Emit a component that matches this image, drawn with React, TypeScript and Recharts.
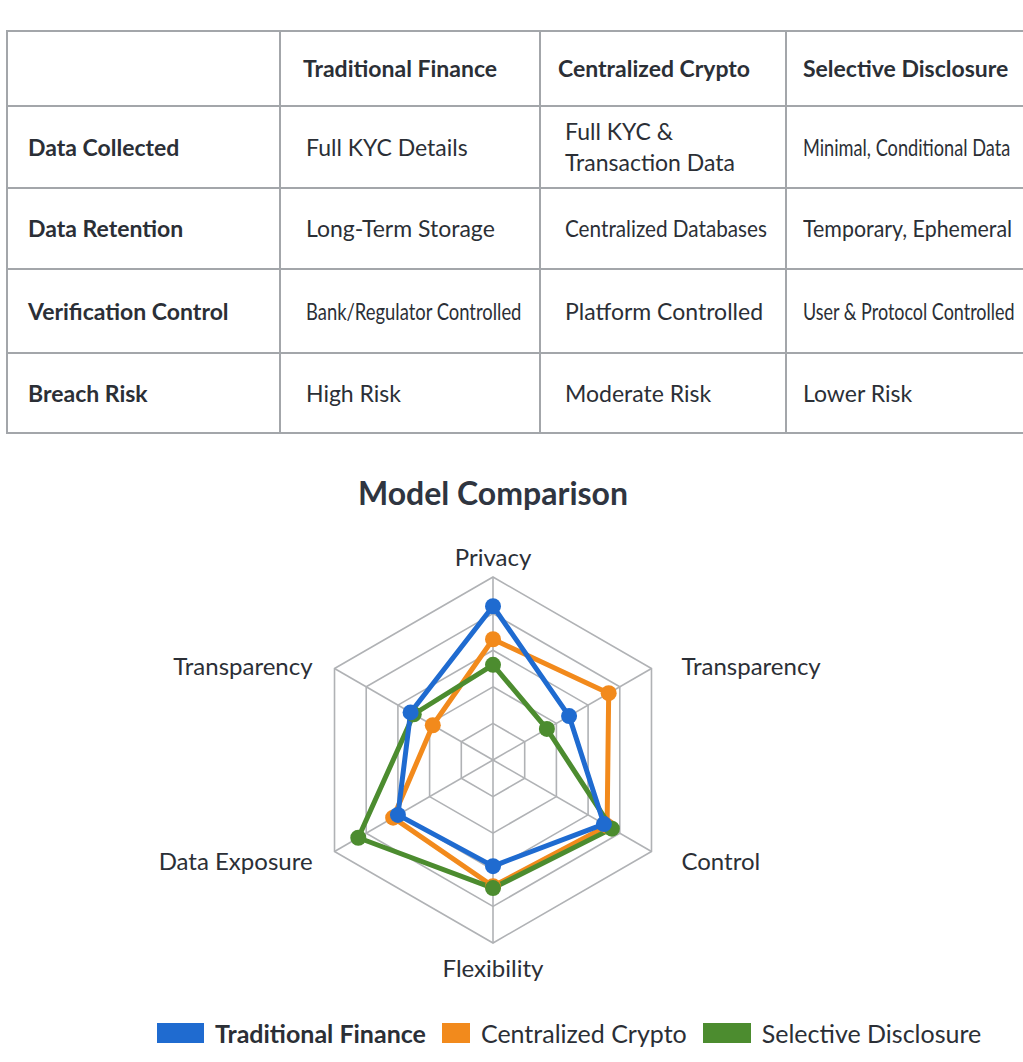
import { RadarChart, Radar, PolarGrid, PolarAngleAxis, PolarRadiusAxis, Legend } from 'recharts'

// Table contents
const modelNames = ['Traditional Finance', 'Centralized Crypto', 'Selective Disclosure']
const rowLabels = ['Data Collected', 'Data Retention', 'Verification Control', 'Breach Risk']
const tradFinanceCells = ['Full KYC Details', 'Long-Term Storage', 'Bank/Regulator Controlled', 'High Risk']
const centralizedCells = ['Full KYC &\nTransaction Data', 'Centralized Databases', 'Platform Controlled', 'Moderate Risk']
const selectiveCells = ['Minimal, Conditional Data', 'Temporary, Ephemeral', 'User & Protocol Controlled', 'Lower Risk']

// Radar contents
const axisKeys = ['privacy', 'transparencyRight', 'control', 'flexibility', 'exposure', 'transparencyLeft']
const axisLabels = ['Privacy', 'Transparency', 'Control', 'Flexibility', 'Data Exposure', 'Transparency']
const tradFinanceScores = [84, 48, 70, 58, 60, 52]
const centralizedScores = [66, 73, 72, 69, 63, 38]
const selectiveScores = [52, 34, 75, 70, 85, 50]

const COLORS: Record<string, string> = {
  'Traditional Finance': '#1f6bd0',
  'Centralized Crypto': '#f28a1c',
  'Selective Disclosure': '#4c8c2f',
}
const LEGEND_ICON_W: Record<string, number> = {
  'Traditional Finance': 47,
  'Centralized Crypto': 28,
  'Selective Disclosure': 48,
}

const FONT = 'Lato, "Open Sans", sans-serif'
const INK = '#2b2f36'
const BORDER = '#a3a6aa'

const chartData = axisKeys.map((key, i) => ({
  axis: key,
  'Traditional Finance': tradFinanceScores[i],
  'Centralized Crypto': centralizedScores[i],
  'Selective Disclosure': selectiveScores[i],
}))

const columns = [tradFinanceCells, centralizedCells, selectiveCells]

// some cells are squeezed horizontally in the picture
const squeeze: Record<string, number> = {
  'Bank/Regulator Controlled': 0.8,
  'Centralized Databases': 0.9,
  'Minimal, Conditional Data': 0.79,
  'User & Protocol Controlled': 0.78,
  'Temporary, Ephemeral': 0.93,
}

const colWidths = [273, 260, 246, 270]
const rowHeights = [75, 82, 81, 84, 80]

const CellText = ({ text, bold }: { text: string; bold?: boolean }) => {
  const s = squeeze[text] ?? 1
  return (
    <span
      style={{
        display: 'inline-block',
        whiteSpace: 'pre',
        transform: `scaleX(${s})`,
        transformOrigin: 'left center',
        fontWeight: bold ? 700 : 400,
        lineHeight: '31px',
      }}
    >
      {text}
    </span>
  )
}

const renderTick = (props: any) => {
  const { x, y, payload, index } = props
  const rad = (-payload.coordinate * Math.PI) / 180
  const cos = Math.cos(rad)
  const sin = Math.sin(rad)
  let anchor = 'middle'
  let tx = x
  let ty = y
  if (cos > 0.1) {
    anchor = 'start'
    tx = x + 23
  } else if (cos < -0.1) {
    anchor = 'end'
    tx = x - 15
  }
  if (sin < -0.9) ty = y - 13
  else if (sin > 0.9) ty = y + 16
  else if (sin < 0) ty = y + 1
  else ty = y + 5
  return (
    <text x={tx} y={ty} textAnchor={anchor} dominantBaseline="central" fill={INK} fontSize={24} fontFamily={FONT}>
      {axisLabels[index]}
    </text>
  )
}

const renderLegend = (props: any) => {
  const items = [...(props.payload || [])].sort(
    (a: any, b: any) => modelNames.indexOf(a.value) - modelNames.indexOf(b.value)
  )
  return (
    <div style={{ display: 'flex', alignItems: 'center', fontFamily: FONT, color: INK }}>
      {items.map((item: any, i: number) => (
        <div key={item.value} style={{ display: 'flex', alignItems: 'center', marginRight: 16 }}>
          <div style={{ width: LEGEND_ICON_W[item.value], height: 20, background: COLORS[item.value], marginRight: 11 }} />
          <span style={{ fontSize: 25, fontWeight: i === 0 ? 700 : 400 }}>{item.value}</span>
        </div>
      ))}
    </div>
  )
}

const App = () => {
  return (
    <div
      style={{
        position: 'fixed',
        left: 0,
        top: 0,
        width: 1023,
        height: 1062,
        overflow: 'hidden',
        background: '#ffffff',
        fontFamily: FONT,
        color: INK,
      }}
    >
      <table
        style={{
          position: 'absolute',
          left: 6,
          top: 30,
          borderCollapse: 'collapse',
          tableLayout: 'fixed',
          width: colWidths.reduce((a, b) => a + b, 0),
          fontSize: 23,
        }}
      >
        <colgroup>
          {colWidths.map((w, i) => (
            <col key={i} style={{ width: w }} />
          ))}
        </colgroup>
        <tbody>
          <tr style={{ height: rowHeights[0] }}>
            <td style={{ border: `2px solid ${BORDER}` }} />
            {modelNames.map((m, i) => (
              <td
                key={m}
                style={{
                  border: `2px solid ${BORDER}`,
                  paddingLeft: i === 0 ? 22 : i === 1 ? 17 : 16,
                  whiteSpace: 'nowrap',
                  overflow: 'hidden',
                }}
              >
                <CellText text={m} bold />
              </td>
            ))}
          </tr>
          {rowLabels.map((label, r) => (
            <tr key={label} style={{ height: rowHeights[r + 1] }}>
              <td style={{ border: `2px solid ${BORDER}`, paddingLeft: 20 }}>
                <CellText text={label} bold />
              </td>
              {columns.map((col, c) => (
                <td
                  key={c}
                  style={{
                    border: `2px solid ${BORDER}`,
                    paddingLeft: c === 0 ? 25 : c === 1 ? 24 : 16,
                    whiteSpace: 'nowrap',
                    overflow: 'hidden',
                  }}
                >
                  <CellText text={col[r]} />
                </td>
              ))}
            </tr>
          ))}
        </tbody>
      </table>

      <div
        style={{
          position: 'absolute',
          left: 0,
          top: 472,
          width: 986,
          textAlign: 'center',
          fontSize: 32,
          lineHeight: '42px',
          fontWeight: 700,
          color: '#2f3540',
        }}
      >
        Model Comparison
      </div>

      <div style={{ position: 'absolute', left: 0, top: 480 }}>
        <RadarChart
          width={1023}
          height={582}
          data={chartData}
          cx={493}
          cy={280}
          outerRadius={183}
          margin={{ top: 0, right: 0, bottom: 0, left: 0 }}
        >
          <PolarGrid gridType="polygon" stroke="#b0b2b5" strokeWidth={1.6} />
          <PolarAngleAxis dataKey="axis" tick={renderTick} tickLine={false} axisLine={false} tickSize={0} />
          <PolarRadiusAxis domain={[0, 100]} tickCount={6} tick={false} axisLine={false} />
          {['Centralized Crypto', 'Selective Disclosure', 'Traditional Finance'].map((name) => (
            <Radar
              key={name}
              name={name}
              dataKey={name}
              stroke={COLORS[name]}
              strokeWidth={5}
              strokeLinejoin="round"
              fill="none"
              dot={{ r: 8, fill: COLORS[name], stroke: COLORS[name], strokeWidth: 0 }}
              isAnimationActive={false}
            />
          ))}
          <Legend
            content={renderLegend}
            wrapperStyle={{ position: 'absolute', left: 157, top: 538, width: 'auto', height: 30 }}
          />
        </RadarChart>
      </div>
    </div>
  )
}

export default App
